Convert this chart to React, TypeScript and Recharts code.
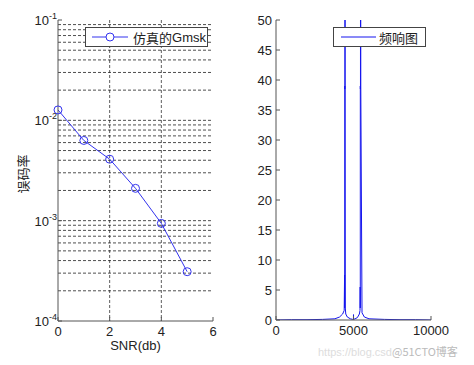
import React from "react";
import {
  LineChart,
  Line,
  XAxis,
  YAxis,
  ReferenceLine,
  CartesianGrid,
} from "recharts";

// BER vs SNR (left panel)
const snrDb = [0, 1, 2, 3, 4, 5];
const berValues = [0.0127, 0.0063, 0.0041, 0.0021, 0.00094, 0.00031];
const snrTicks = [0, 2, 4, 6];
const berTicks = [0.0001, 0.001, 0.01, 0.1];
const berGrid = [
  0.0002, 0.0003, 0.0004, 0.0005, 0.0006, 0.0007, 0.0008, 0.0009, 0.001,
  0.002, 0.003, 0.004, 0.005, 0.006, 0.007, 0.008, 0.009, 0.01,
  0.02, 0.03, 0.04, 0.05, 0.06, 0.07, 0.08, 0.09,
];
const snrGrid = [2, 4];

// frequency response (right panel)
const freqHz = [
  0, 1000, 2000, 3000, 3800, 4100, 4300, 4400, 4425, 4432, 4438, 4440, 4445,
  4450, 4455, 4460, 4470, 4500, 4600, 4800, 4950, 4995, 5000, 5005, 5100, 5250,
  5380, 5420, 5432, 5438, 5440, 5445, 5450, 5455, 5460, 5470, 5550, 5700, 6000,
  7000, 8000, 9000, 10000,
];
const freqMag = [
  0, 0.05, 0.05, 0.1, 0.2, 0.5, 1.0, 1.6, 7.5, 2, 39, 38.5, 39, 95, 95, 39, 2,
  1.0, 0.5, 0.2, 0.1, 0.1, 0.9, 0.1, 0.2, 0.4, 1.0, 1.6, 5.5, 2, 39, 38.5, 39,
  95, 95, 39, 1.2, 0.5, 0.2, 0.1, 0.05, 0.05, 0,
];
const magTicks = [0, 5, 10, 15, 20, 25, 30, 35, 40, 45, 50];
const freqTicks = [0, 5000, 10000];

const berData = snrDb.map((s, i) => ({ snr: s, ber: berValues[i] }));
const freqData = freqHz.map((f, i) => ({ f, mag: freqMag[i] }));

const FONT = "'Liberation Sans', Arial, sans-serif";
const CJK = "'Noto Sans CJK SC', sans-serif";
const AXIS = "#555";
const TXT = "#222";

const LogTick = (props: any) => {
  const { x, y, payload } = props;
  const exp = Math.round(Math.log10(payload.value));
  return (
    <text x={x} y={y + 5} textAnchor="end" fontSize={13} fill={TXT} fontFamily={FONT}>
      10
      <tspan dy={-6} fontSize={9}>{exp}</tspan>
    </text>
  );
};

const tickStyle = { fontSize: 13, fill: TXT, fontFamily: FONT };

export default function App() {
  return (
    <div style={{ position: "absolute", left: 0, top: 0, width: 474, height: 365, background: "#fff" }}>
      <div style={{ position: "absolute", left: 0, top: 0 }}>
        <LineChart width={240} height={365} data={berData} margin={{ top: 20, right: 27, bottom: 14, left: 0 }}>
          <CartesianGrid
            horizontal={false}
            verticalValues={snrGrid}
            stroke="#333"
            strokeDasharray="3 2"
            strokeWidth={0.8}
          />
          {berGrid.map((v) => (
            <ReferenceLine key={"h" + v} y={v} stroke="#222" strokeDasharray="3 2" strokeWidth={0.8} />
          ))}
          <XAxis
            dataKey="snr"
            type="number"
            domain={[0, 6]}
            ticks={snrTicks}
            height={30}
            stroke={AXIS}
            tickSize={-4}
            tickMargin={10}
            tick={tickStyle}
            label={{ value: "SNR(db)", position: "insideBottom", offset: 1, fontSize: 13, fill: TXT, fontFamily: FONT }}
          />
          <XAxis
            xAxisId="top"
            orientation="top"
            dataKey="snr"
            type="number"
            domain={[0, 6]}
            ticks={snrTicks}
            height={0}
            stroke={AXIS}
            tickSize={-4}
            tick={false}
          />
          <YAxis
            scale="log"
            domain={[0.0001, 0.1]}
            ticks={berTicks}
            allowDataOverflow
            width={58}
            stroke={AXIS}
            tickSize={-4}
            tickMargin={5}
            tick={<LogTick />}
          />
          <YAxis
            yAxisId="right"
            orientation="right"
            scale="log"
            domain={[0.0001, 0.1]}
            ticks={berTicks}
            allowDataOverflow
            width={0}
            stroke={AXIS}
            tickSize={-4}
            tick={false}
          />
          <Line
            dataKey="ber"
            stroke="#3333ee"
            strokeWidth={1}
            dot={{ r: 4, stroke: "#3333ee", fill: "none", strokeWidth: 1 }}
            isAnimationActive={false}
          />
        </LineChart>
        <div
          style={{
            position: "absolute",
            left: 22,
            top: 174,
            transform: "translate(-50%, -50%) rotate(-90deg)",
            fontSize: 13,
            fontFamily: CJK,
            color: TXT,
            whiteSpace: "nowrap",
          }}
        >
          误码率
        </div>
        <div
          style={{
            position: "absolute",
            left: 85,
            top: 27,
            width: 121,
            height: 18,
            border: "1px solid #444",
            background: "#fff",
            display: "flex",
            alignItems: "center",
          }}
        >
          <svg width={44} height={18} style={{ marginLeft: 4 }}>
            <line x1={2} y1={9} x2={38} y2={9} stroke="#3333ee" />
            <circle cx={20} cy={9} r={4} stroke="#3333ee" fill="#fff" />
          </svg>
          <span style={{ fontSize: 13, fontFamily: CJK, color: TXT, marginLeft: -1 }}>仿真的</span>
          <span style={{ fontSize: 13, fontFamily: FONT, color: TXT }}>Gmsk</span>
        </div>
      </div>

      <div style={{ position: "absolute", left: 240, top: 0 }}>
        <LineChart width={234} height={365} data={freqData} margin={{ top: 20, right: 43, bottom: 15, left: 0 }}>
          <XAxis
            dataKey="f"
            type="number"
            domain={[0, 10000]}
            ticks={freqTicks}
            height={30}
            stroke={AXIS}
            tickSize={-4}
            tickMargin={10}
            tick={tickStyle}
          />
          <XAxis
            xAxisId="top"
            orientation="top"
            dataKey="f"
            type="number"
            domain={[0, 10000]}
            ticks={freqTicks}
            height={0}
            stroke={AXIS}
            tickSize={-4}
            tick={false}
          />
          <YAxis
            domain={[0, 50]}
            ticks={magTicks}
            allowDataOverflow
            width={36}
            stroke={AXIS}
            tickSize={-4}
            tickMargin={8}
            tick={tickStyle}
          />
          <YAxis
            yAxisId="right"
            orientation="right"
            domain={[0, 50]}
            ticks={magTicks}
            allowDataOverflow
            width={0}
            stroke={AXIS}
            tickSize={-4}
            tick={false}
          />
          <Line
            dataKey="mag"
            type="linear"
            stroke="#1515ee"
            strokeWidth={1}
            dot={false}
            isAnimationActive={false}
          />
        </LineChart>
        <div
          style={{
            position: "absolute",
            left: 93,
            top: 27,
            width: 91,
            height: 18,
            border: "1px solid #444",
            background: "#fff",
            display: "flex",
            alignItems: "center",
          }}
        >
          <svg width={42} height={18} style={{ marginLeft: 6 }}>
            <line x1={1} y1={9} x2={36} y2={9} stroke="#1515ee" />
          </svg>
          <span style={{ fontSize: 13, fontFamily: CJK, color: TXT, marginLeft: -3 }}>频响图</span>
        </div>
        <div
          style={{
            position: "absolute",
            left: 78,
            top: 343,
            fontSize: 11,
            fontFamily: FONT,
            whiteSpace: "nowrap",
          }}
        >
          <span style={{ color: "#ddd" }}>https://blog.csd</span>
          <span style={{ color: "#bbb", fontFamily: CJK }}>@51CTO博客</span>
        </div>
      </div>
    </div>
  );
}
